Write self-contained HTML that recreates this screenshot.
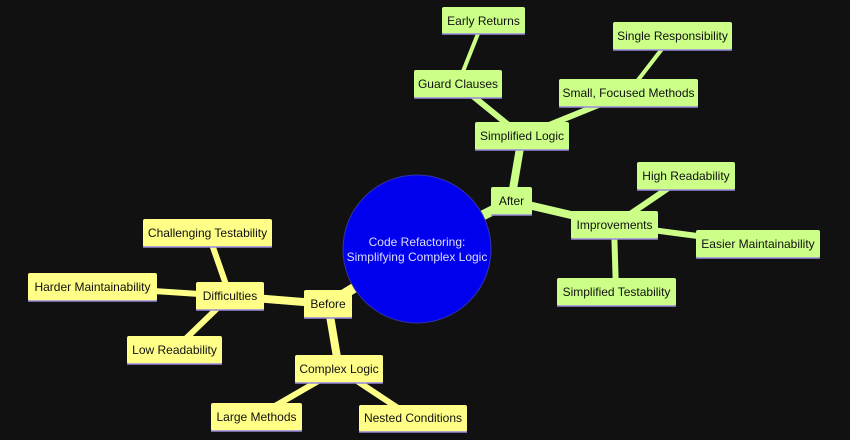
<!DOCTYPE html>
<html><head><meta charset="utf-8"><style>
html,body{margin:0;padding:0;background:#111111;}
svg{display:block}
text{font-family:"Liberation Sans",sans-serif;font-size:12px;fill:#111;}
</style></head><body>
<svg width="850" height="440" viewBox="0 0 850 440">
<rect width="850" height="440" fill="#111111"/>
<g stroke-linecap="round" fill="none">
<!-- green edges -->
<line x1="417" y1="249" x2="511" y2="201" stroke="#ccff88" stroke-width="10"/>
<line x1="511" y1="201" x2="522" y2="136" stroke="#ccff88" stroke-width="8"/>
<line x1="511" y1="201" x2="614" y2="225" stroke="#ccff88" stroke-width="8"/>
<line x1="522" y1="136" x2="458" y2="84" stroke="#ccff88" stroke-width="6"/>
<line x1="522" y1="136" x2="628" y2="93" stroke="#ccff88" stroke-width="6"/>
<line x1="458" y1="84" x2="483" y2="21" stroke="#ccff88" stroke-width="4"/>
<line x1="628" y1="93" x2="672" y2="36" stroke="#ccff88" stroke-width="4"/>
<line x1="614" y1="225" x2="686" y2="176" stroke="#ccff88" stroke-width="6"/>
<line x1="614" y1="225" x2="758" y2="244" stroke="#ccff88" stroke-width="6"/>
<line x1="614" y1="225" x2="616" y2="292" stroke="#ccff88" stroke-width="6"/>
<!-- yellow edges -->
<line x1="417" y1="249" x2="328" y2="304" stroke="#ffff88" stroke-width="10"/>
<line x1="328" y1="304" x2="230" y2="296" stroke="#ffff88" stroke-width="8"/>
<line x1="328" y1="304" x2="339" y2="369" stroke="#ffff88" stroke-width="8"/>
<line x1="230" y1="296" x2="208" y2="233" stroke="#ffff88" stroke-width="6"/>
<line x1="230" y1="296" x2="92" y2="287" stroke="#ffff88" stroke-width="6"/>
<line x1="230" y1="296" x2="174" y2="350" stroke="#ffff88" stroke-width="6"/>
<line x1="339" y1="369" x2="256" y2="417" stroke="#ffff88" stroke-width="6"/>
<line x1="339" y1="369" x2="413" y2="418" stroke="#ffff88" stroke-width="6"/>
</g>
<circle cx="417" cy="249" r="74" fill="#0000ee" stroke="#3333aa" stroke-width="1"/>
<text x="417" y="246" text-anchor="middle" style="fill:#ddddff">Code Refactoring:</text>
<text x="417" y="261" text-anchor="middle" style="fill:#ddddff">Simplifying Complex Logic</text>
<g id="nodes">
<!-- helper: rect + bottom line + text -->
</g>
<g>
<g fill="#ccff88">
<rect x="442" y="7" width="83" height="27" rx="2"/>
<rect x="613" y="22" width="119" height="28" rx="2"/>
<rect x="414" y="70" width="88" height="28" rx="2"/>
<rect x="559" y="79" width="139" height="28" rx="2"/>
<rect x="475" y="122" width="94" height="28" rx="2"/>
<rect x="491" y="187" width="41" height="28" rx="2"/>
<rect x="637" y="162" width="98" height="28" rx="2"/>
<rect x="571" y="211" width="87" height="28" rx="2"/>
<rect x="696" y="230" width="124" height="28" rx="2"/>
<rect x="557" y="278" width="119" height="28" rx="2"/>
</g>
<g fill="#ffff88">
<rect x="304" y="290" width="48" height="28" rx="2"/>
<rect x="143" y="219" width="129" height="28" rx="2"/>
<rect x="196" y="282" width="68" height="28" rx="2"/>
<rect x="28" y="273" width="129" height="28" rx="2"/>
<rect x="127" y="336" width="95" height="28" rx="2"/>
<rect x="295" y="355" width="88" height="28" rx="2"/>
<rect x="211" y="403" width="91" height="28" rx="2"/>
<rect x="359" y="405" width="108" height="27" rx="2"/>
</g>
<g stroke="#9988dd" stroke-width="1.5">
<line x1="442" y1="34" x2="525" y2="34"/>
<line x1="613" y1="50" x2="732" y2="50"/>
<line x1="414" y1="98" x2="502" y2="98"/>
<line x1="559" y1="107" x2="698" y2="107"/>
<line x1="475" y1="150" x2="569" y2="150"/>
<line x1="491" y1="215" x2="532" y2="215"/>
<line x1="637" y1="190" x2="735" y2="190"/>
<line x1="571" y1="239" x2="658" y2="239"/>
<line x1="696" y1="258" x2="820" y2="258"/>
<line x1="557" y1="306" x2="676" y2="306"/>
<line x1="304" y1="318" x2="352" y2="318"/>
<line x1="143" y1="247" x2="272" y2="247"/>
<line x1="196" y1="310" x2="264" y2="310"/>
<line x1="28" y1="301" x2="157" y2="301"/>
<line x1="127" y1="364" x2="222" y2="364"/>
<line x1="295" y1="383" x2="383" y2="383"/>
<line x1="211" y1="431" x2="302" y2="431"/>
<line x1="359" y1="432" x2="467" y2="432"/>
</g>
<g text-anchor="middle">
<text x="483.5" y="25">Early Returns</text>
<text x="672.5" y="40">Single Responsibility</text>
<text x="458" y="88">Guard Clauses</text>
<text x="628.5" y="97">Small, Focused Methods</text>
<text x="522" y="140">Simplified Logic</text>
<text x="511.5" y="205">After</text>
<text x="686" y="180">High Readability</text>
<text x="614.5" y="229">Improvements</text>
<text x="758" y="248">Easier Maintainability</text>
<text x="616.5" y="296">Simplified Testability</text>
<text x="328" y="308">Before</text>
<text x="207.5" y="237">Challenging Testability</text>
<text x="230" y="300">Difficulties</text>
<text x="92.5" y="291">Harder Maintainability</text>
<text x="174.5" y="354">Low Readability</text>
<text x="339" y="373">Complex Logic</text>
<text x="256.5" y="421">Large Methods</text>
<text x="413" y="422">Nested Conditions</text>
</g>
</g>
</svg>
</body></html>
